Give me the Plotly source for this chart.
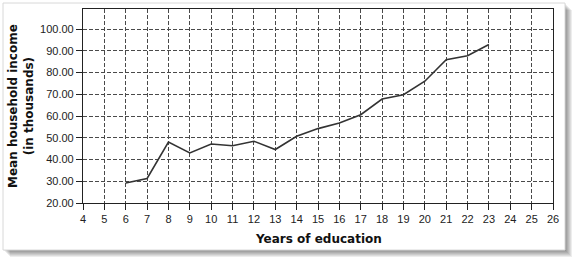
import plotly.graph_objects as go

# ---- data ----
years = [6, 7, 8, 9, 10, 11, 12, 13, 14, 15, 16, 17, 18, 19, 20, 21, 22, 23]
income = [29.2, 31.3, 48.0, 43.0, 47.1, 46.3, 48.4, 44.6, 50.7, 54.2, 56.8, 60.6, 67.8, 69.8, 76.0, 85.9, 87.7, 92.9]
x_ticks = list(range(4, 27))
y_ticks = [20, 30, 40, 50, 60, 70, 80, 90, 100]

W, H = 576, 261
L, R, T, B = 83, 23, 9, 58
PW, PH = W - L - R, H - T - B


def px2x(X):
    return (X - L) / PW


def px2y(Y):
    return (H - B - Y) / PH


fig = go.Figure()
fig.add_trace(go.Scatter(x=years, y=income, mode="lines",
                         line=dict(color="#333333", width=1.6),
                         hoverinfo="skip", showlegend=False))

shapes = []
# soft drop shadow
for o in range(1, 8):
    shapes.append(dict(type="rect", xref="paper", yref="paper", layer="below",
                       x0=px2x(3 + o), x1=px2x(565 + o), y0=px2y(250 + o), y1=px2y(3 + o),
                       fillcolor="rgba(0,0,0,0.07)", line=dict(width=0)))
# white panel
shapes.append(dict(type="rect", xref="paper", yref="paper", layer="below",
                   x0=px2x(3), x1=px2x(565), y0=px2y(250), y1=px2y(3),
                   fillcolor="white", line=dict(color="#d8d8d8", width=1)))

grid = dict(showgrid=True, gridcolor="#4a4a4a", gridwidth=1, griddash="4px,2px")
axis_common = dict(showline=True, linecolor="#222222", linewidth=1.2, mirror=True,
                   ticks="outside", ticklen=6, tickcolor="#222222", tickwidth=1,
                   zeroline=False, tickfont=dict(family="Liberation Sans, Arial", size=11, color="#222222"),
                   **grid)

fig.update_layout(
    width=W, height=H,
    margin=dict(l=L, r=R, t=T, b=B),
    paper_bgcolor="white",
    plot_bgcolor="#e9e9e9",
    shapes=shapes,
    xaxis=dict(range=[4, 26], tickvals=x_ticks, ticktext=[str(v) for v in x_ticks], **axis_common),
    yaxis=dict(range=[20, 109.2], tickvals=y_ticks, tickformat=".2f", **axis_common),
    annotations=[
        dict(text="<b>Years of education</b>", xref="paper", yref="paper",
             x=px2x(318), y=px2y(239), xanchor="center", yanchor="middle", showarrow=False,
             font=dict(family="DejaVu Sans", size=12, color="#111111")),
        dict(text="<b>Mean household income<br>(in thousands)</b>", xref="paper", yref="paper",
             x=px2x(21), y=0.5, xanchor="center", yanchor="middle", showarrow=False, textangle=-90,
             font=dict(family="DejaVu Sans", size=12, color="#111111")),
    ],
)

fig.write_html("out.html")
